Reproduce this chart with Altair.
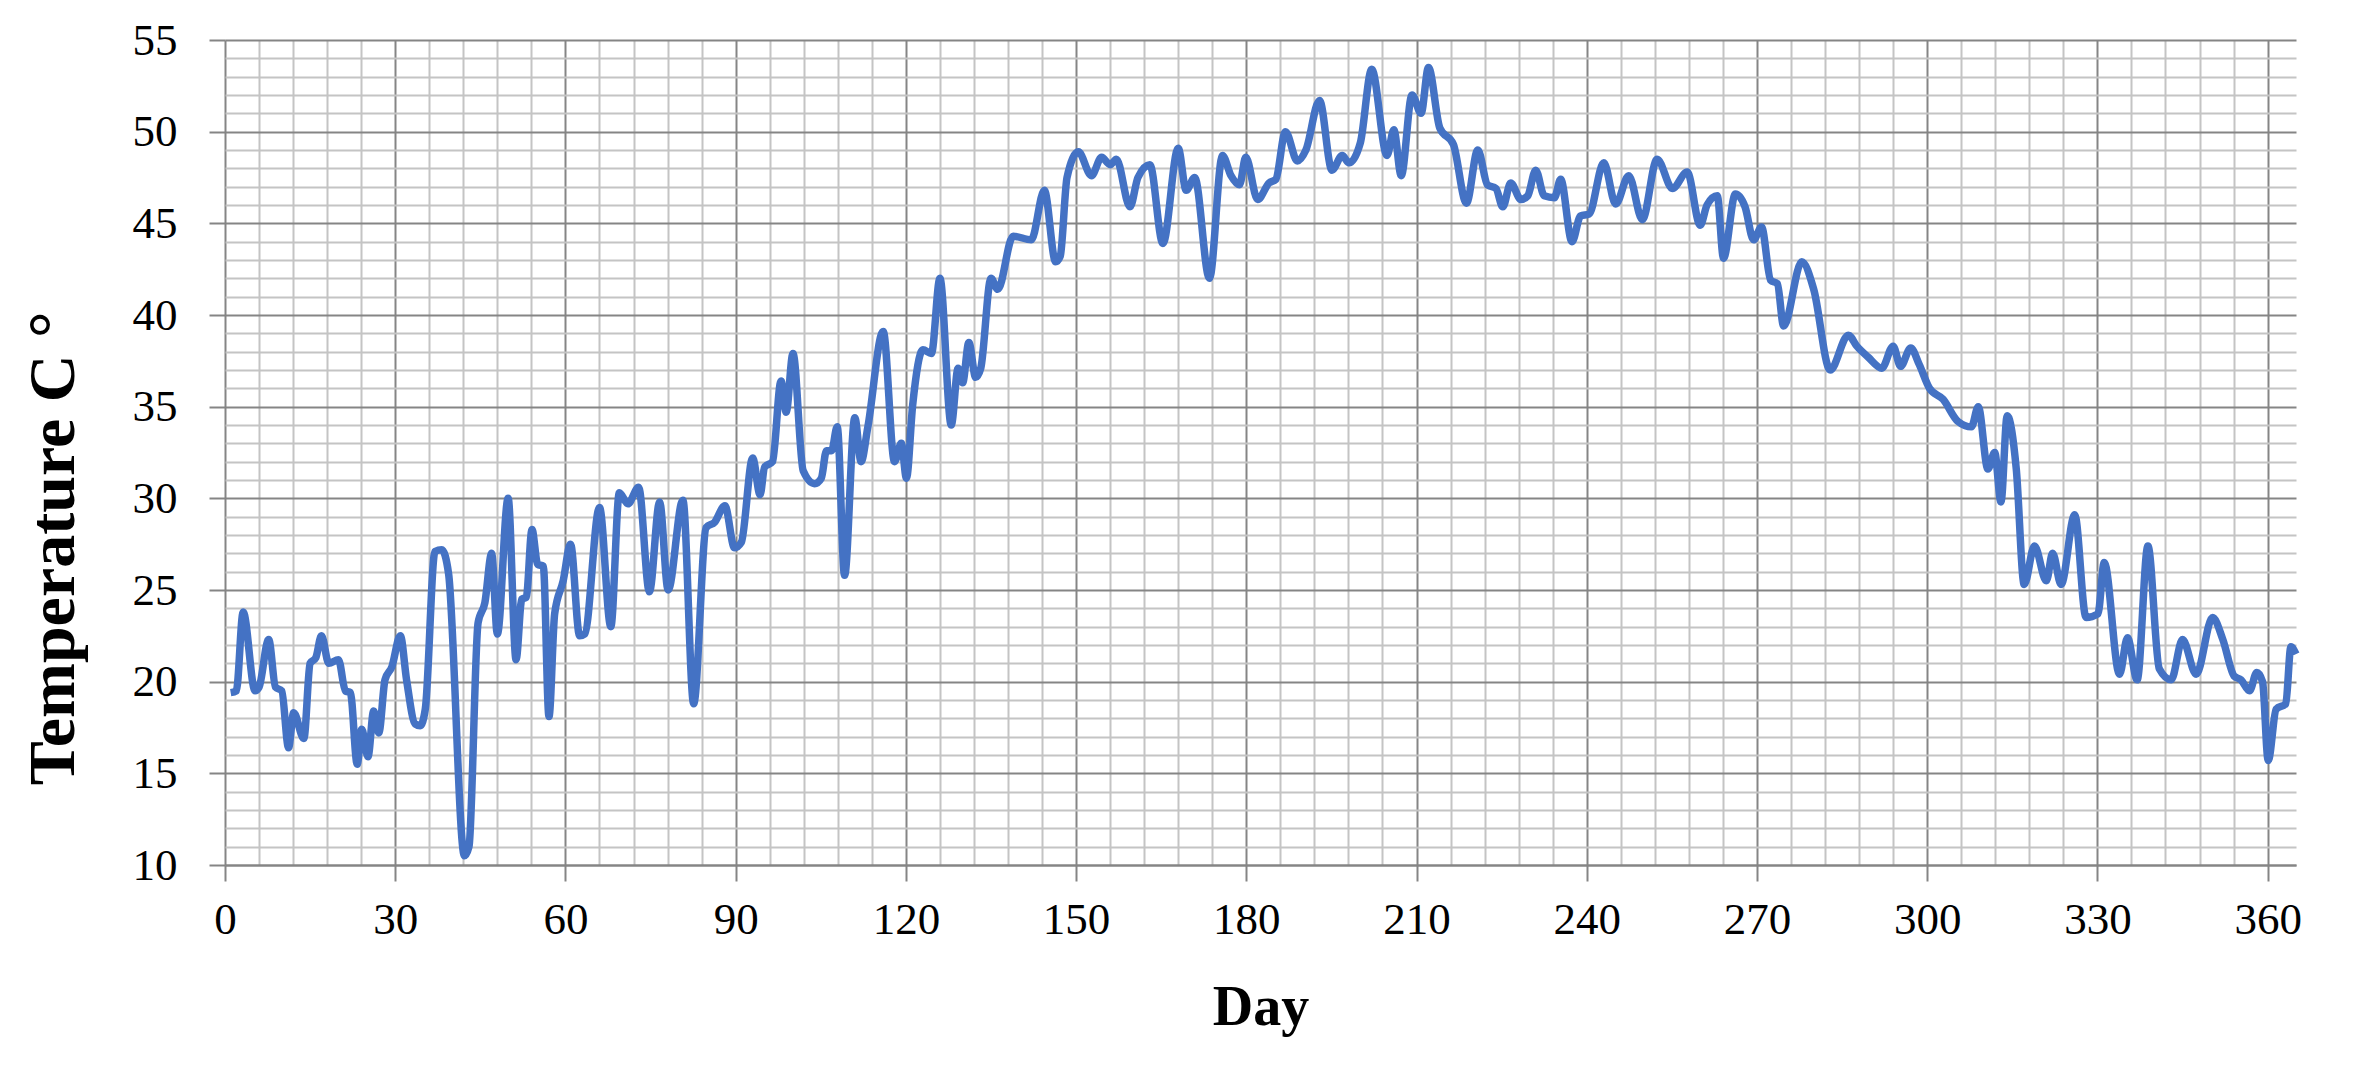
import altair as alt
import pandas as pd

# Turning points of the daily temperature trace
days = [1, 2, 3.2, 5.3, 6, 7.7, 8.9, 10, 11.2, 12.1, 13.9, 15, 16, 17, 18.3, 20, 21.2, 22.1,
        23.3, 24.1, 25.2, 26.2, 27.1, 28.2, 29.4, 30.9, 32, 33.5, 34.4, 35.3, 37, 38.2, 39.4,
        42.2, 43, 44.6, 45.8, 47, 48, 49.9, 51.3, 52.3, 53.1, 54.1, 55.1, 56.1, 57.1, 58.1,
        59.6, 60.9, 62.5, 63.4, 66, 68, 69.5, 71, 72.9,
        74.8, 76.6, 78.1, 80.7, 82.6, 84.8, 86.3, 88.1, 89.8, 91, 93, 94.3, 95.1, 96.5, 98,
        98.9, 100.1, 101.9, 103.9, 105.1, 106, 106.9, 107.9, 109.2, 111, 112.1, 113.3, 116,
        118, 119.2, 120.1, 121.2, 123, 124.5, 126, 128, 129.2, 130, 131.1, 132.3, 133.2, 135,
        136.2, 138.9, 142.1, 144.4,
        146.4, 147.2, 148.4, 150.4, 152.7, 154.5, 156, 157.1, 159.5, 160.9, 163, 165.3, 168,
        169.4, 170.9, 173.5, 175.8, 177.3, 178.8, 179.9, 182, 184, 185.2, 186.9, 189, 190.5,
        192.9, 195.1, 196.9, 198.1, 200.1, 202.1, 204.8, 206, 207.3, 209.2, 210.8, 212.1,
        214.1, 216.5, 218.8, 220.8, 222.5, 224, 225.2, 226.6, 228.4, 229.6, 231, 232.5, 234.3,
        235.4, 237.4, 238.9, 240.4, 243, 245.1, 247.4, 249.8, 252.4, 255.1, 257.7, 260, 261.2,
        263, 264.1, 266.2, 267.9, 269.4, 270.8, 272.4, 273.6, 274.7, 277.9, 280, 282.9, 286.1,
        287.6, 289.6, 292, 294, 295.3, 297.1, 298.6, 300.4, 302.8, 305.4, 307.8, 309, 310.7,
        311.9, 313, 314.1, 315.7, 317.1, 318.9, 321, 322.1, 323.6, 326, 328, 330.1, 331.2,
        333.9, 335.3, 337, 338.9, 340.9, 343, 345, 347.4, 350.3, 352.1, 354.1, 355.3, 356.8,
        358.1, 359.1, 360.1, 361.5, 363.2, 364.1, 365]

temps = [19.4, 19.5, 23.8, 19.5, 19.7, 22.3, 19.7, 19.5, 16.4, 18.3, 16.9, 21, 21.3, 22.5, 21,
         21.2, 19.5, 19.4, 15.5, 17.4, 15.9, 18.4, 17.2, 20.1, 20.8, 22.5, 20.1, 17.7, 17.6,
         18.5, 27.1, 27.2, 25.9, 10.5, 11, 23.2, 24.3, 27, 22.6, 30, 21.2, 24.5, 24.6, 28.3,
         26.4, 26.3, 18.1, 23.7, 25.5, 27.5, 22.5, 22.6, 29.5, 23, 30.3, 29.7, 30.6,
         24.9, 29.8, 25, 29.9, 18.8, 28.4, 28.7, 29.6, 27.3, 27.6, 32.2, 30.2, 31.7, 32, 36.4,
         34.7, 37.9, 31.5, 30.8, 31.1, 32.6, 32.6, 33.9, 25.8, 34.4, 32, 33.9, 39.1, 32, 33,
         31.1, 35.1, 38.1, 37.9, 42, 34, 37.1, 36.3, 38.5, 36.6, 37.1, 42, 41.4, 44.3, 44.1,
         46.8,
         42.9, 43.2, 47.5, 48.9, 47.6, 48.6, 48.2, 48.5, 45.9, 47.5, 48.2, 43.9, 49.1, 46.8,
         47.5, 42, 48.7, 47.6, 47.1, 48.6, 46.3, 47.2, 47.4, 50, 48.4, 49, 51.7, 47.9, 48.7,
         48.3, 49.4, 53.4, 48.7, 50.1, 47.6, 52, 51, 53.5, 50.2, 49.3, 46.1, 49, 47.1, 46.9,
         45.9, 47.2, 46.3, 46.5, 47.9, 46.5, 46.4, 47.4, 44, 45.4, 45.5, 48.3, 46.05, 47.6,
         45.2, 48.5, 46.9, 47.8, 44.9, 46, 46.5, 43.1, 46.6, 45.9, 44.1, 44.8, 41.9, 41.7,
         39.4, 42.9, 41.4, 37, 38.9, 38.3, 37.7, 37.1, 38.3, 37.2, 38.2, 37.3, 36, 35.4, 34.2,
         33.9, 35, 31.6, 32.5, 29.8, 34.5, 31.6, 25.3, 27.4, 25.5, 27, 25.3, 29.1, 23.5, 23.7,
         26.5, 20.4, 22.4, 20.1, 27.4, 20.7, 20.1, 22.3, 20.4, 23.5, 22.3, 20.3, 20.1, 19.5,
         20.5, 20, 15.7, 18.5, 18.8, 21.9, 21.5]

x_grid = list(range(0, 366, 6))    # minor every 6 days, major every 30
y_grid = list(range(10, 56, 1))    # minor every 1, major every 5

df = pd.DataFrame({"day": days, "temp": temps})

FONT = "Liberation Serif"
MAJOR = "#858585"
MINOR = "#c4c4c4"

x_axis = alt.Axis(
    values=x_grid,
    labelExpr="datum.value % 30 === 0 ? datum.label : ''",
    labelFont=FONT, labelFontSize=45, labelColor="#000000", labelPadding=16,
    labelOverlap=False, labelFlush=False,
    tickSize=16, tickWidth=2,
    tickColor={"condition": {"test": "datum.value % 30 === 0", "value": MAJOR}, "value": "transparent"},
    grid=True, gridWidth=2,
    gridColor={"condition": {"test": "datum.value % 30 === 0", "value": MAJOR}, "value": MINOR},
    domainColor=MAJOR, domainWidth=2,
    title="Day", titleFont=FONT, titleFontSize=56, titleFontWeight="bold",
    titleColor="#000000", titlePadding=38,
)

y_axis = alt.Axis(
    values=y_grid,
    labelExpr="datum.value % 5 === 0 ? datum.label : ''",
    labelFont=FONT, labelFontSize=45, labelColor="#000000", labelPadding=32,
    labelOverlap=False, labelFlush=False,
    tickSize=16, tickWidth=2,
    tickColor={"condition": {"test": "datum.value % 5 === 0", "value": MAJOR}, "value": "transparent"},
    grid=True, gridWidth=2,
    gridColor={"condition": {"test": "datum.value % 5 === 0", "value": MAJOR}, "value": MINOR},
    domain=False,
    title="Temperature C °", titleFont=FONT, titleFontSize=66, titleFontWeight="bold",
    titleColor="#000000", titleX=-172, titleY=508, titleBaseline="middle", titleAngle=270,
)

chart = (
    alt.Chart(df)
    .mark_line(color="#4472C4", strokeWidth=7.5, interpolate="monotone")
    .encode(
        x=alt.X("day:Q", scale=alt.Scale(domain=[0, 365], nice=False, zero=False), axis=x_axis),
        y=alt.Y("temp:Q", scale=alt.Scale(domain=[10, 55], nice=False, zero=False), axis=y_axis),
    )
    .properties(
        width=2071, height=825,
        padding={"left": 217, "top": 32, "right": 60, "bottom": 190},
        autosize=alt.AutoSizeParams(type="none"),
        background="#ffffff",
    )
    .configure_view(stroke=None)
)

chart.save("out.html", embed_options={"renderer": "svg", "actions": False})
